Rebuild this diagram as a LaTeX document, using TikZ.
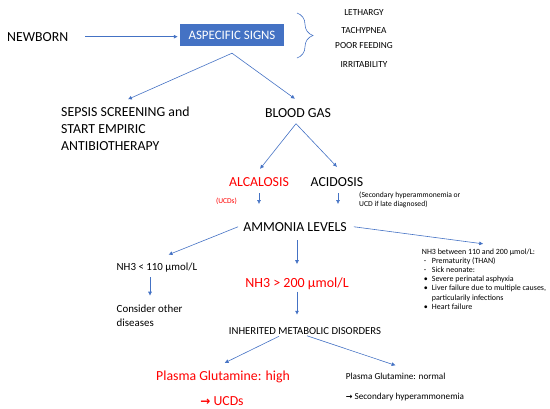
\documentclass[tikz,border=0pt]{standalone}
\usepackage{fontspec}
\setmainfont{Carlito}
\newfontfamily\arrowfont{DejaVu Sans}
\usetikzlibrary{arrows.meta,decorations.pathreplacing}
\definecolor{signblue}{RGB}{68,114,196}
\definecolor{alarmred}{RGB}{255,0,0}
\newcommand{\fs}[2]{\fontsize{#1}{#2}\selectfont}
\begin{document}
\begin{tikzpicture}[x=1pt,y=-1pt,
  every node/.style={inner sep=0pt},
  big/.style={font=\fs{13.8}{17.2}},
  mid/.style={font=\fs{10.9}{14}},
  small/.style={font=\fs{9.3}{11}},
  tiny/.style={font=\fs{7.95}{9.17}},
  note/.style={font=\fs{7.6}{9}},
  alarm/.style={text=alarmred},
  arr/.style={-{Latex[length=4pt,width=4pt]},signblue,line width=0.6pt}]
  \useasboundingbox (0,0) rectangle (550,408);
  % first row:
  \node[big,anchor=base west] (newborn) at (7,41.1) {NEWBORN};
  \node[fill=signblue,text=white,font=\fs{12.9}{15},minimum width=104pt,minimum height=22pt] (aspec) at (232,35) {ASPECIFIC SIGNS};
  \draw[signblue,line width=0.6pt,decorate,decoration={brace,amplitude=16pt}] (297,13) -- (297,58);
  % the signs:
  \node[small,anchor=base] (sign1) at (364,15.7) {LETHARGY};
  \node[small,anchor=base] (sign2) at (364,33) {TACHYPNEA};
  \node[small,anchor=base] (sign3) at (364,48.7) {POOR FEEDING};
  \node[small,anchor=base] (sign4) at (364,67.3) {IRRITABILITY};
  % second row (multi-line nodes sit on their last line):
  \node[big,anchor=base west,align=left] (sepsis) at (61,150.5) {SEPSIS SCREENING and\\START EMPIRIC\\ANTIBIOTHERAPY};
  \node[big,anchor=base] (blood) at (298,117.4) {BLOOD GAS};
  % acid--base:
  \node[big,alarm,anchor=base] (alc) at (259,186.1) {ALCALOSIS};
  \node[big,anchor=base] (acid) at (337,186.1) {ACIDOSIS};
  \node[alarm,font=\fs{7.5}{9},anchor=base] (ucd) at (226.5,203.1) {(UCDs)};
  \node[note,anchor=base west,align=left] (latenote) at (359,206.5) {(Secondary hyperammonemia or\\UCD if late diagnosed)};
  % ammonia:
  \node[big,anchor=base] (amm) at (295,231.2) {AMMONIA LEVELS};
  \node[mid,anchor=base west] (low) at (116.5,270.5) {NH3 < 110 µmol/L};
  \node[mid,anchor=base west,align=left] (other) at (116.5,326.5) {Consider other\\diseases};
  \node[font=\fs{14}{17},alarm,anchor=base] (high) at (297,287.1) {NH3 > 200 µmol/L};
  \node[tiny,anchor=base west,align=left] (between) at (421.7,309.3) {NH3 between 110 and 200 µmol/L:\\
    \hspace*{2pt}\makebox[8pt][l]{-}Prematurity (THAN)\\
    \hspace*{2pt}\makebox[8pt][l]{-}Sick neonate:\\
    \hspace*{2pt}\makebox[8pt][l]{\textbullet}Severe perinatal asphyxia\\
    \hspace*{2pt}\makebox[8pt][l]{\textbullet}Liver failure due to multiple causes,\\
    \hspace*{10pt}particularily infections\\
    \hspace*{2pt}\makebox[8pt][l]{\textbullet}Heart failure};
  % bottom:
  \node[font=\fs{10.7}{13},anchor=base] (imd) at (305,334.5) {INHERITED METABOLIC DISORDERS};
  \node[big,alarm,anchor=base] (glhigh) at (223,380.5) {Plasma Glutamine: high};
  \node[big,alarm,anchor=base] (ucds) at (222,405.2) {{\arrowfont\bfseries\fs{12}{14}→} UCDs};
  \node[font=\fs{9.2}{11},anchor=base west] (glnorm) at (345.6,379) {Plasma Glutamine: normal};
  \node[font=\fs{9.2}{11},anchor=base west] (secondary) at (345.6,399.5) {{\arrowfont\bfseries\fs{8}{10}→} Secondary hyperammonemia};
  % arrows:
  \draw[arr] ([xshift=17pt]newborn.east) -- ([xshift=-2pt]newborn.east -| aspec.west);
  \draw[arr] ([yshift=-7pt]aspec.south) -- ([xshift=2.5pt,yshift=7pt]sepsis.north);
  \draw[arr] ([yshift=-7pt]aspec.south) -- ([xshift=-3pt,yshift=9.4pt]blood.north);
  \draw[arr] ([xshift=-2pt,yshift=-6pt]blood.south) -- ([xshift=1pt,yshift=8pt]alc.north);
  \draw[arr] ([xshift=-2pt,yshift=-6pt]blood.south) -- ([yshift=10pt]acid.north);
  \draw[arr] ([yshift=-7pt]alc.south) -- ([yshift=18pt]alc.south |- amm.north);
  \draw[arr] ([xshift=1pt,yshift=-7pt]acid.south) -- ([xshift=1pt,yshift=18pt]acid.south |- amm.north);
  \draw[arr] ([xshift=-5pt]amm.west) -- ([xshift=11.5pt,yshift=8pt]low.north);
  \draw[arr] ([yshift=-9pt]amm.south -| high.north) -- ([yshift=13pt]high.north);
  \draw[arr] ([xshift=7pt]amm.east) -- ([xshift=61.6pt,yshift=4.7pt]between.north west);
  \draw[arr] ([xshift=33.5pt,yshift=-5pt]low.south west) -- ([xshift=33.5pt,yshift=9pt]other.north west);
  \draw[arr] ([yshift=-2pt]high.south) -- ([yshift=12.6pt]high.south |- imd.north);
  \draw[arr] ([xshift=-26pt,yshift=-1.5pt]imd.south) -- ([xshift=1.6pt,yshift=7.8pt]glhigh.north);
  \draw[arr] ([xshift=2pt,yshift=-1pt]imd.south) -- ([yshift=7pt]glnorm.north);
\end{tikzpicture}
\end{document}
